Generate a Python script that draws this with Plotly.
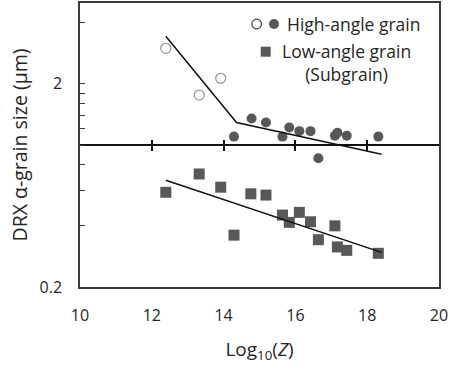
import math
import plotly.graph_objects as go

# ---- data ----
x_open = [12.39, 13.32, 13.92]
y_open = [2.99, 1.76, 2.13]

x_filled = [14.29, 14.78, 15.18, 15.64, 15.83, 16.11, 16.42, 16.64, 17.10, 17.17, 17.43, 18.31]
y_filled = [1.10, 1.35, 1.29, 1.10, 1.22, 1.17, 1.17, 0.86, 1.11, 1.15, 1.11, 1.10]

x_square = [12.39, 13.32, 13.92, 14.29, 14.76, 15.18, 15.64, 15.83, 16.11, 16.42, 16.64, 17.10, 17.17, 17.43, 18.31]
y_square = [0.585, 0.72, 0.62, 0.36, 0.575, 0.567, 0.452, 0.416, 0.466, 0.419, 0.342, 0.40, 0.315, 0.303, 0.293]

x_fit_high = [12.39, 14.36, 18.40]
y_fit_high = [3.43, 1.29, 0.90]
x_fit_low = [12.39, 18.40]
y_fit_low = [0.67, 0.296]

x_ticks = [10, 12, 14, 16, 18, 20]
mid_ticks = [12, 14, 16, 18]
y_major = [0.2, 2]
y_major_text = ["0.2", "2"]
y_minor = [0.4, 0.6, 0.8, 1, 1.2, 1.4, 1.6, 1.8, 4]
y_range = [0.2, 5]
divider_y = 1.0

FONT = "Open Sans"
AX = "#3a3a3a"
MARK = "#585858"
TXT = "#262626"

fig = go.Figure()

fig.add_trace(go.Scatter(x=x_fit_high, y=y_fit_high, mode="lines",
                         line=dict(color="#111111", width=1.5),
                         xaxis="x2", yaxis="y", hoverinfo="skip"))
fig.add_trace(go.Scatter(x=x_fit_low, y=y_fit_low, mode="lines",
                         line=dict(color="#111111", width=1.5),
                         xaxis="x3", yaxis="y", hoverinfo="skip"))
fig.add_trace(go.Scatter(x=x_open, y=y_open, mode="markers",
                         marker=dict(symbol="circle-open", size=10,
                                     color="#9a9a9a", line=dict(width=1.3))))
fig.add_trace(go.Scatter(x=x_filled, y=y_filled, mode="markers",
                         marker=dict(symbol="circle", size=10, color=MARK)))
fig.add_trace(go.Scatter(x=x_square, y=y_square, mode="markers",
                         marker=dict(symbol="square", size=11, color=MARK)))

div_pos = math.log10(divider_y / y_range[0]) / math.log10(y_range[1] / y_range[0])

fig.update_layout(
    width=474, height=379,
    margin=dict(l=80, r=35, t=3, b=92, autoexpand=False),
    paper_bgcolor="white", plot_bgcolor="white",
    showlegend=False,
    font=dict(family=FONT, color=TXT, size=16),
    xaxis=dict(range=[10, 20], tickvals=x_ticks, showline=True, mirror=True,
               linecolor=AX, linewidth=1.5, ticks="", showgrid=False, zeroline=False,
               tickfont=dict(size=16), ticklabelstandoff=13, automargin=False,
               title=dict(text="Log<sub>10</sub>(<i>Z</i>)", font=dict(size=19), standoff=18)),
    xaxis2=dict(range=[10, 20], overlaying="x", anchor="free", position=div_pos,
                showline=True, linecolor="#111111", linewidth=1.5,
                tickvals=mid_ticks, ticks="outside", ticklen=5, tickwidth=1.5,
                tickcolor="#111111", showticklabels=False, showgrid=False, zeroline=False,
                automargin=False),
    xaxis3=dict(range=[10, 20], overlaying="x", anchor="free", position=div_pos,
                showline=False, tickvals=mid_ticks, ticks="inside", ticklen=5, tickwidth=1.5,
                tickcolor="#111111", showticklabels=False, showgrid=False, zeroline=False,
                automargin=False),
    yaxis=dict(type="log", range=[math.log10(y_range[0]), math.log10(y_range[1])],
               tickvals=y_major, ticktext=y_major_text, ticks="inside", ticklen=5,
               tickcolor=AX, tickwidth=1.2,
               minor=dict(tickvals=y_minor, ticks="inside", ticklen=5, tickcolor=AX,
                          tickwidth=1.2, showgrid=False),
               showline=True, mirror=True, linecolor=AX, linewidth=1.5,
               showgrid=False, zeroline=False, tickfont=dict(size=16), ticklabelstandoff=13,
               automargin=False,
               title=dict(text="DRX α-grain size (μm)", font=dict(size=19.5), standoff=7)),
)

# legend (drawn as layout items)
def px_x(p):
    return (p - 80) / 359.0

def px_y(p):
    return (287 - p) / 284.0

fig.add_shape(type="circle", xref="paper", yref="paper", xsizemode="pixel", ysizemode="pixel",
              xanchor=px_x(256.7), yanchor=px_y(24), x0=-4.8, x1=4.8, y0=-4.8, y1=4.8,
              line=dict(color="#444444", width=1.2), fillcolor="white")
fig.add_shape(type="circle", xref="paper", yref="paper", xsizemode="pixel", ysizemode="pixel",
              xanchor=px_x(274), yanchor=px_y(24), x0=-5, x1=5, y0=-5, y1=5,
              line=dict(color=MARK, width=0), fillcolor=MARK)
fig.add_shape(type="rect", xref="paper", yref="paper", xsizemode="pixel", ysizemode="pixel",
              xanchor=px_x(265.7), yanchor=px_y(51.7), x0=-5, x1=5, y0=-5, y1=5,
              line=dict(color=MARK, width=0), fillcolor=MARK)

fig.add_annotation(xref="paper", yref="paper", x=px_x(285), y=px_y(24), xanchor="left",
                   yanchor="middle", showarrow=False, text="High-angle grain",
                   font=dict(size=17.5))
fig.add_annotation(xref="paper", yref="paper", x=px_x(346), y=px_y(62.5), xanchor="center",
                   yanchor="middle", showarrow=False, align="center",
                   text="Low-angle grain<br>(Subgrain)", font=dict(size=17.5))

fig.write_html("out.html", config={"displayModeBar": False},
               post_script="document.body.style.margin='0px';document.body.style.overflow='hidden';")
